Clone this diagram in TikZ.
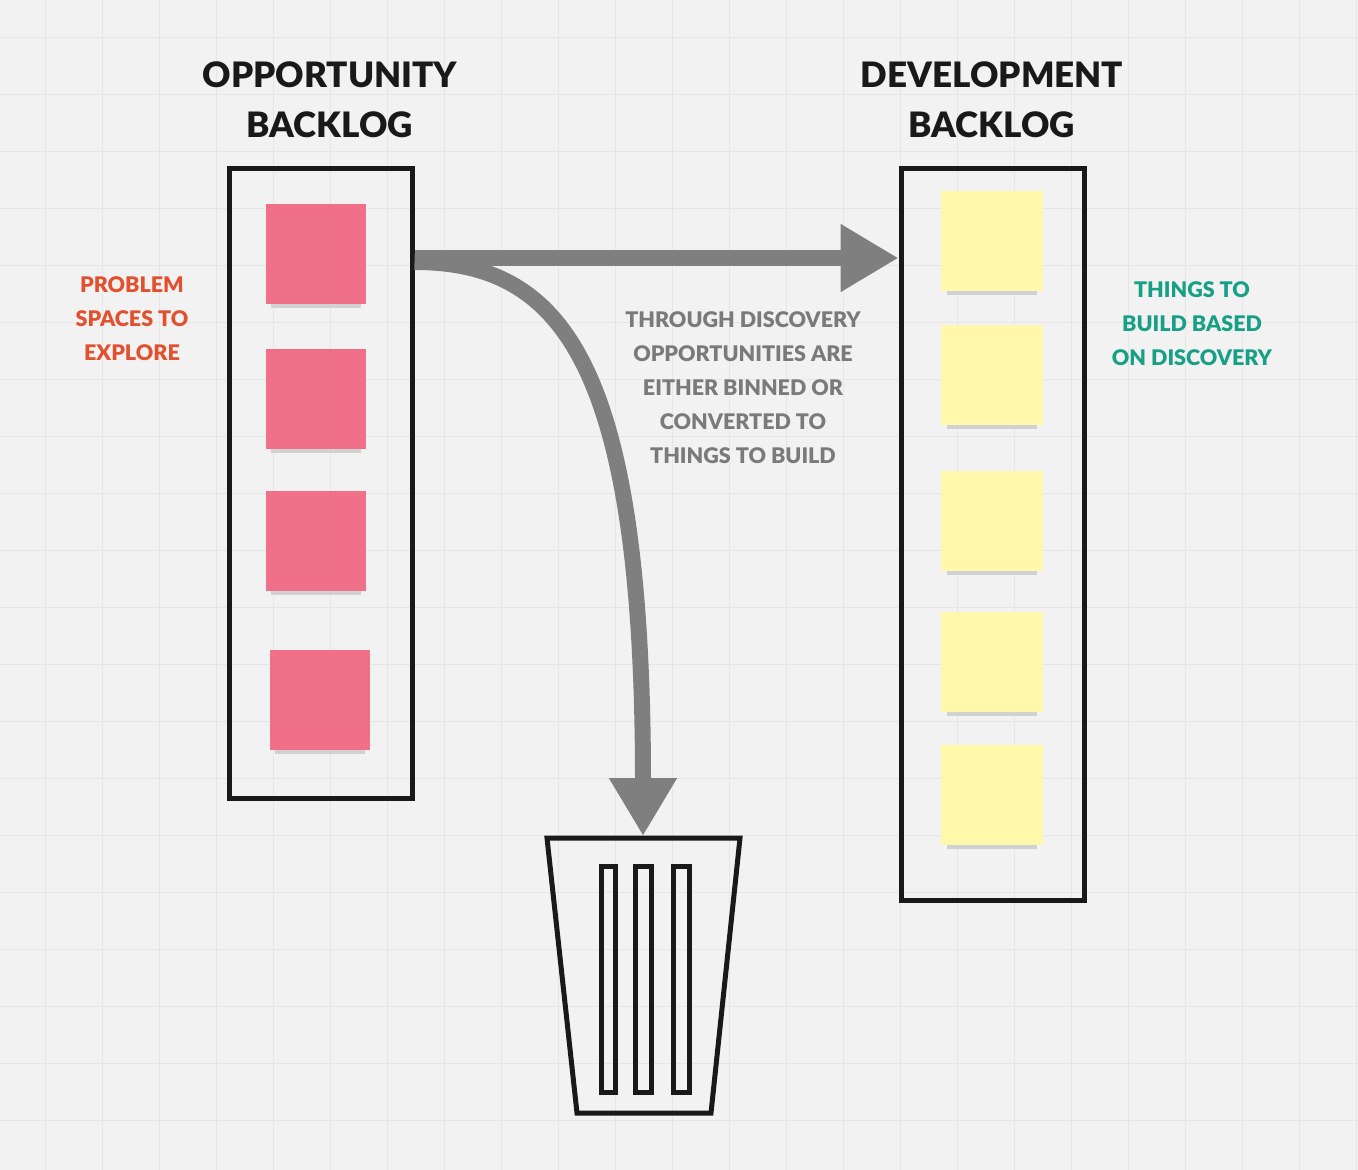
\documentclass[tikz,border=0pt]{standalone}
\usepackage{fontspec}
\setmainfont{Lato}[BoldFont={Lato Black}]
\usetikzlibrary{arrows.meta}
\definecolor{bg}{HTML}{F2F2F2}
\definecolor{gridc}{HTML}{E6E6E6}
\definecolor{pink}{HTML}{EF7088}
\definecolor{yel}{HTML}{FFF7AA}
\definecolor{arr}{HTML}{7F7F7F}
\definecolor{redt}{HTML}{E2502E}
\definecolor{grnt}{HTML}{17A085}
\definecolor{grayt}{HTML}{7A7A7A}
\tikzset{
 box/.style={draw=black!90,line width=5pt},
 note/.style={inner sep=0pt,minimum width=100pt,minimum height=100pt,draw=none},
 title/.style={font=\fontsize{35}{50}\selectfont\bfseries,align=center,text=black!90},
 lab/.style={font=\fontsize{21.5}{34}\selectfont\bfseries,align=center},
 flow/.style={draw=arr,line width=16pt,-{Triangle[length=58pt,width=64pt]}},
}
\begin{document}
\begin{tikzpicture}[x=1pt,y=-1pt]
\fill[bg] (0,0) rectangle (1358,1170);
\useasboundingbox (0,0) rectangle (1358,1170);
\foreach \x in {45,102,...,1358} \draw[gridc,line width=1pt] (\x,0)--(\x,1170);
\foreach \y in {37,94,...,1170} \draw[gridc,line width=1pt] (0,\y)--(1358,\y);

\node[title] (t1) at (330,100) {OPPORTUNITY\\BACKLOG};
\node[title] (t2) at (992,100) {DEVELOPMENT\\BACKLOG};

\node[box,inner sep=0pt,minimum width=183pt,minimum height=630pt] (lb) at (320.5,483) {};
\node[box,inner sep=0pt,minimum width=183pt,minimum height=732pt] (rb) at (992.5,534) {};

\foreach \n/\x/\y in {p1/316/254,p2/316/399,p3/316/541,p4/320/700}{
 \fill[black!18] (\x-45,\y+46) rectangle (\x+45,\y+54);
 \node[note,fill=pink] (\n) at (\x,\y) {};}
\foreach \n/\y in {y1/241,y2/375,y3/521,y4/662,y5/795}{
 \fill[black!18] (947,\y+46) rectangle (1037,\y+54);
 \node[note,fill=yel,minimum width=102pt] (\n) at (992,\y) {};}

\node[lab,text=redt] (rl) at (132,319) {PROBLEM\\SPACES TO\\EXPLORE};
\node[lab,text=grnt] (gl) at (1192,324) {THINGS TO\\BUILD BASED\\ON DISCOVERY};
\node[lab,text=grayt] (ml) at (743,388) {THROUGH DISCOVERY\\OPPORTUNITIES ARE\\EITHER BINNED OR\\CONVERTED TO\\THINGS TO BUILD};

% trash
\coordinate (bin) at (643,836);
\draw[black!90,line width=5pt,line join=miter] (547,838)--(740,838)--(711,1113)--(577,1113)--cycle;
\foreach \a/\b in {601/615,635/651,673/689}
 \draw[black!90,line width=5pt] (\a,866) rectangle (\b,1092);

\draw[flow] (lb.east |- 0,258) -- (rb.west |- 0,258);
\draw[flow] (lb.east |- 0,262) .. controls (560,262) and (643,360) .. (bin);
\end{tikzpicture}
\end{document}
